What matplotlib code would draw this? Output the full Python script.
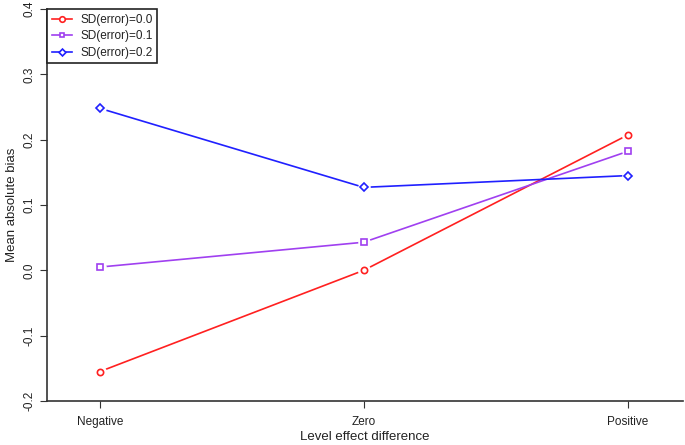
import matplotlib
matplotlib.use("Agg")
from matplotlib import pyplot as plt
from matplotlib.lines import Line2D
import numpy as np

plt.rcParams['font.family'] = ['Liberation Sans', 'DejaVu Sans']

categories = ["Negative", "Zero", "Positive"]
sd_labels = ["SD(error)=0.0", "SD(error)=0.1", "SD(error)=0.2"]
bias_sd00 = [-0.155, 0.000, 0.207]
bias_sd01 = [0.005, 0.043, 0.182]
bias_sd02 = [0.248, 0.127, 0.145]

colors = ["#FF2020", "#A040F0", "#2020FF"]
markers = ["o", "s", "D"]
msizes = [4.5, 4.0, 4.0]

fig = plt.figure(figsize=(6.85, 4.45), dpi=100)
ax = fig.add_axes([47 / 685, 1 - 401 / 445, (683 - 47) / 685, (401 - 9) / 445])

x = np.arange(1, len(categories) + 1)
handles = []
for vals, c, m, ms, lab in zip((bias_sd00, bias_sd01, bias_sd02), colors, markers, msizes, sd_labels):
    ax.plot(x, vals, color=c, lw=1.2, zorder=2)
    # white halo to mimic R's type="b" gaps around points
    ax.plot(x, vals, ls="none", marker="o", ms=ms + 5, mfc="white", mec="none", zorder=3)
    ax.plot(x, vals, ls="none", marker=m, ms=ms, mfc="white", mec=c, mew=1.2, zorder=4)
    handles.append(Line2D([], [], color=c, lw=1.2, marker=m, ms=ms - 0.5, mfc="white", mec=c, mew=1.2, label=lab))

ax.set_xlim(0.8, 3.21)
ax.set_ylim(-0.2, 0.4)
ax.set_xticks(x)
ax.set_xticklabels(categories, fontsize=8.5)
ax.set_yticks([-0.2, -0.1, 0.0, 0.1, 0.2, 0.3, 0.4])
ax.set_yticklabels(["-0.2", "-0.1", "0.0", "0.1", "0.2", "0.3", "0.4"], fontsize=8.5, rotation=90, va="center")
ax.tick_params(axis="both", length=5, width=0.8, color="#333333", labelcolor="#222222")
ax.tick_params(axis="x", pad=6)
ax.tick_params(axis="y", pad=3)

for s in ("top", "right"):
    ax.spines[s].set_visible(False)
for s in ("left", "bottom"):
    ax.spines[s].set_linewidth(1.2)
    ax.spines[s].set_color("#333333")

ax.set_xlabel("Level effect difference", fontsize=9.5, labelpad=2, color="#222222")
ax.set_ylabel("Mean absolute bias", fontsize=9.5, labelpad=4, color="#222222")

leg = ax.legend(handles=handles, loc="upper left", bbox_to_anchor=(0, 1), fontsize=8.5,
                frameon=True, fancybox=False, edgecolor="#222222", framealpha=1,
                borderpad=0.4, labelspacing=0.38, handlelength=1.7, handletextpad=0.7,
                borderaxespad=0)
leg.get_frame().set_linewidth(1.2)
for t in leg.get_texts():
    t.set_color("#222222")

fig.savefig("out.png", dpi=100)
